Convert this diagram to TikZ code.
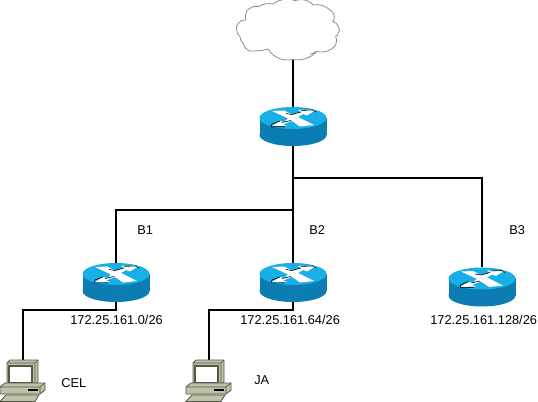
\documentclass[tikz,border=0pt]{standalone}
\usepackage{fontspec}
\setmainfont{Liberation Sans}
\definecolor{rtop}{HTML}{18AEE6}
\definecolor{rside}{HTML}{0B7DB2}
\definecolor{cloudc}{HTML}{8C8C8C}
\definecolor{pcbody}{HTML}{BEC2A6}
\definecolor{pcdark}{HTML}{55564A}
\tikzset{
  x=0.75pt,y=-0.75pt,
  link/.style={draw=black,line width=1.9pt},
  hub/.style={inner sep=0pt,minimum width=50.25pt,minimum height=29.25pt},
  pcbox/.style={inner sep=0pt,minimum width=33.75pt,minimum height=31.5pt},
  lbl/.style={inner sep=0pt,font=\fontsize{9.6pt}{11pt}\selectfont,anchor=west},
  pics/router/.style={code={
    \fill[rside] (0,8.5) ellipse[x radius=33.5,y radius=11];
    \fill[rside] (-33.5,-8.5) rectangle (33.5,8.5);
    \fill[rtop] (0,-8.5) ellipse[x radius=33.5,y radius=11];
    \begin{scope}[yshift=6.375pt]
    \fill[white] (-21,-7) -- (-9,-7.5) -- (-1,-3.5) -- (8,-6) -- (5,-8) -- (23,-8) -- (14,-2.5) -- (10,-4) -- (5,-1) -- (21,7) -- (7,8.5) -- (-1,3) -- (-10,6.5) -- (-6,8) -- (-22,8.5) -- (-13,3) -- (-9,4) -- (-5,0.5) -- cycle;
    \draw[black,line width=0.45pt] (-7,-4.5) -- (-1,-3.5) -- (8,-6) (8,-7.6) -- (20,-8) -- (23,-6);
    \draw[black,line width=0.45pt] (-22,8.5) -- (-21,6) -- (-13,3) (-22,8.8) -- (-8,8.8) (-11,4.5) -- (-2,2.5);
    \end{scope}
  }},
  pics/pc/.style={code={
    \fill[pcbody,draw=pcdark,line width=0.6pt] (-16,3) -- (-13,0) -- (15,0) -- (15,22) -- (12,25) -- (-16,25) -- cycle;
    \draw[pcdark,line width=0.5pt] (-16,3) -- (12,3) -- (12,25) (12,3) -- (15,0);
    \fill[white,draw=pcdark,line width=0.8pt] (-14,6) -- (9,6) -- (9,23) -- (-14,23) -- cycle;
    \fill[pcbody,draw=pcdark,line width=0.6pt] (-23,27) -- (-18,23) -- (22,23) -- (22,30) -- (17,34) -- (-23,34) -- cycle;
    \draw[pcdark,line width=0.5pt] (-23,27) -- (17,27) -- (17,34) (17,27) -- (22,23);
    \fill[black] (5,29) -- (15,29) -- (15,31) -- (5,31) -- cycle;
    \fill[pcbody,draw=pcdark,line width=0.6pt] (-17,35) -- (16,35) -- (12,41.5) -- (-23,41.5) -- cycle;
  }},
}
\begin{document}
\begin{tikzpicture}
\useasboundingbox (0,0) rectangle (538,402);
\node[hub] (r0) at (293,126.5) {};
\node[hub] (r1) at (116,282.5) {};
\node[hub] (r2) at (293,282.5) {};
\node[hub] (r3) at (482,287) {};
\node[pcbox] (pc1) at (23,381) {};
\node[pcbox] (pc2) at (209,381) {};
\coordinate (cloudbase) at (293,59);
\coordinate (bus1) at (293,210);
\coordinate (bus3) at (293,178);
\coordinate (t1) at (116,210);
\coordinate (t3) at (482,178);
\coordinate (d1) at (23,310);
\coordinate (d2) at (209,310);
\coordinate (u1) at (116,310);
\coordinate (u2) at (293,310);
% links
\draw[link] (cloudbase) -- (r0.north);
\draw[link] (r0.south) -- (r2.north);
\draw[link] (bus1) -- (t1) -- (r1.north);
\draw[link] (bus3) -- (t3) -- (r3.north);
\draw[link] (r1.south) -- (u1) -- (d1) -- (pc1.north);
\draw[link] (r2.south) -- (u2) -- (d2) -- (pc2.north);
% cloud
\draw[cloudc,fill=white,line width=0.6pt]
  (268.5,49) to[bend right=25] (270,52) to[bend right=28] (293,59.5) to[bend right=25] (317,51.5)
  to[bend right=32] (335.7,45) to[bend right=20] (335.7,36) to[bend right=45] (338.3,33)
  to[bend right=40] (338.3,26.7) to[bend right=35] (332.7,21.7) to[bend right=30] (334,15)
  to[bend right=30] (330,10) to[bend right=25] (313.3,5) to[bend right=30] (311,2.7)
  to[bend right=25] (295,0.6) to[bend right=28] (273.3,4) to[bend right=20] (258.3,6.7)
  to[bend right=30] (250,8.3) to[bend right=35] (246,13.3) to[bend right=20] (246,20)
  to[bend right=30] (238.3,23.3) to[bend right=30] (236.7,30) to[bend right=25] (240,36.7)
  to[bend right=25] (243.3,43.3) to[bend right=30] (250,51) to[bend right=8] (268.5,49);
\draw[cloudc,line width=0.6pt] (316,51.5) to[bend left=20] (310,54);
% routers
\foreach \n in {r0,r1,r2,r3} { \pic at (\n) {router}; }
\pic at (23,360) {pc};
\pic at (209,360) {pc};
% labels
\node[lbl] (lb1) at (137,230) {B1};
\node[lbl] (lb2) at (309,230) {B2};
\node[lbl] (lb3) at (509,230) {B3};
\node[lbl] (la1) at (70,320) {172.25.161.0/26};
\node[lbl] (la2) at (240,320) {172.25.161.64/26};
\node[lbl] (la3) at (430,320) {172.25.161.128/26};
\node[lbl] (lc) at (61,383) {CEL};
\node[lbl] (lj) at (254,380) {JA};
\end{tikzpicture}
\end{document}
